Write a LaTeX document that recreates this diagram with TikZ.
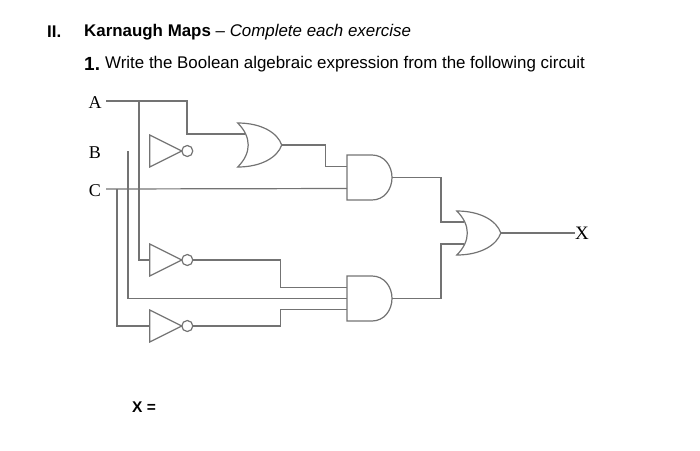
\documentclass[tikz,border=0pt]{standalone}
\usepackage{fontspec}
\setmainfont{Liberation Sans}
\newfontfamily\labelfont{Liberation Serif}
\usetikzlibrary{positioning}
\definecolor{wire}{gray}{0.45}
\tikzset{
    wireline/.style={draw=wire, line width=1.2pt},
    gatebox/.style={inner sep=0pt, outer sep=0pt, minimum width=#1pt, minimum height=#1pt},
    bubble/.style={draw=wire, line width=1.2pt, circle, inner sep=0pt, outer sep=0pt, minimum size=11pt, right=0pt of #1},
    signal/.style={font=\labelfont\fontsize{18}{18}\selectfont, inner sep=0pt},
    heading/.style={anchor=west, inner sep=0pt, font=\fontsize{16.9}{20}\selectfont}
}
% Gate symbols: a named box holds the outline, inputs are -a, -m, -b
\newcommand{\andgate}[2]{
    \node[gatebox=45] (#1) at (#2) {};
    \draw[wireline] (#1.north west) -- ++(25,0) .. controls +(12,0) and +(0,-12) .. (#1.east)
        .. controls +(0,12) and +(12,0) .. ([xshift=25pt]#1.south west) -- (#1.south west) -- cycle;
    \coordinate (#1-a) at ([yshift=11pt]#1.west);
    \coordinate (#1-m) at (#1.west);
    \coordinate (#1-b) at ([yshift=-11pt]#1.west);
}
\newcommand{\orgate}[2]{
    \node[gatebox=44] (#1) at (#2) {};
    \draw[wireline] (#1.north west) .. controls +(24,0) and +(-4,-12) .. (#1.east)
        .. controls +(-4,12) and +(24,0) .. (#1.south west)
        .. controls +(14,-14) and +(14,14) .. cycle;
    \coordinate (#1-a) at ([shift={(7.5pt,11pt)}]#1.west);
    \coordinate (#1-b) at ([shift={(7.5pt,-11pt)}]#1.west);
}
\newcommand{\notgate}[2]{
    \node[gatebox=32] (#1) at (#2) {};
    \draw[wireline] (#1.north west) -- (#1.east) -- (#1.south west) -- cycle;
    \node[bubble=#1] (#1-o) {};
}
\begin{document}
\begin{tikzpicture}[x=1pt, y=-1pt]
    \useasboundingbox (0,0) rectangle (700,450);

    % Heading text
    \node[heading] (sect) at (47,32) {\textbf{II.}};
    \node[heading] (title) at (84,32) {\textbf{Karnaugh Maps} -- \textit{Complete each exercise}};
    \node[heading, font=\fontsize{19}{20}\selectfont\bfseries] (num) at (84,63.5) {1.};
    \node[heading] (task) at (105,64) {Write the Boolean algebraic expression from the following circuit};
    \node[heading, font=\fontsize{15.5}{17}\selectfont\bfseries] (answer) at (132,407) {X =};

    % Input labels
    \node[signal] (A) at (95,102.5) {A};
    \node[signal] (B) at (95,152.5) {B};
    \node[signal] (C) at (95,190.5) {C};

    % Inverters
    \notgate{notA}{165.8,151}
    \notgate{notB}{165.8,260}
    \notgate{notC}{165.8,326}

    % AND gates
    \andgate{andTop}{369.5,177.5}
    \andgate{andBot}{369.5,298.5}

    % OR gates
    \orgate{orTop}{259.7,145}
    \orgate{orOut}{478.8,233}

    % Output label
    \node[signal, font=\labelfont\fontsize{19}{19}\selectfont] (X) at (582,233.5) {X};

    % Junction points on the input lines
    \coordinate (startA) at (106,101);
    \coordinate (tapA) at (139,101);
    \coordinate (turnA) at (187,101);
    \coordinate (tapB) at (128,151);
    \coordinate (startC) at (106,189);
    \coordinate (tapC) at (117,189);

    % Input A
    \draw[wireline] (startA) -- (turnA) |- (orTop-a);
    \draw[wireline] (tapA) |- (notB.west);

    % Input B
    \draw[wireline] (tapB) |- (andBot-m);

    % Input C
    \draw[wireline] (startC) -- (andTop-b);
    \draw[wireline] (tapC) |- (notC.west);

    % Gate outputs
    \draw[wireline] (orTop.east) -- ++(44,0) |- (andTop-a);
    \draw[wireline] (notB-o.east) -- ++(88,0) |- (andBot-a);
    \draw[wireline] (notC-o.east) -- ++(88,0) |- (andBot-b);
    \draw[wireline] (andTop.east) -- ++(49,0) |- (orOut-a);
    \draw[wireline] (andBot.east) -- ++(49,0) |- (orOut-b);
    \draw[wireline] (orOut.east) -- (orOut.east -| X.west);
\end{tikzpicture}
\end{document}
